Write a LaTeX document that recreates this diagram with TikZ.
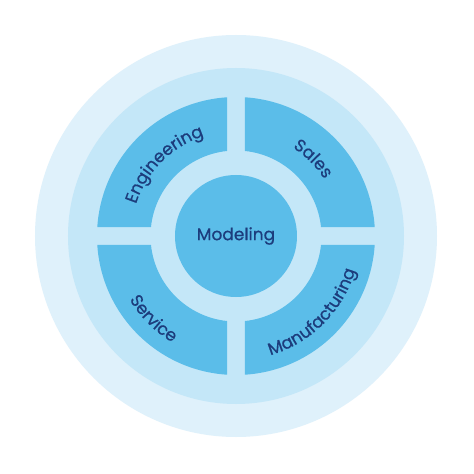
\documentclass[tikz,border=0pt]{standalone}
\usepackage{fontspec}
\setmainfont{Poppins}[FakeBold=0.6]
\usetikzlibrary{decorations.text}
\definecolor{outerc}{HTML}{DFF1FB}
\definecolor{ringc}{HTML}{C4E7F8}
\definecolor{segc}{HTML}{5BBDE9}
\definecolor{txtc}{HTML}{1C3C7C}
\newcommand{\lblfont}{\fontsize{17}{20}\selectfont\color{txtc}}
\tikzset{
  segment/.style={fill=segc, draw=none},
  arclabel/.style={decorate, decoration={text along path, text align=center, text color=txtc}}
}
\begin{document}
\begin{tikzpicture}
\useasboundingbox (-236pt,-238pt) rectangle (238pt,236pt);
\fill[white] (-236pt,-238pt) rectangle (238pt,236pt);
\fill[outerc] (0,0) circle[radius=201pt];
\fill[ringc] (0,0) circle[radius=168pt];
% four segments
\foreach \r in {0,90,180,270}{
  \fill[segment, rotate=\r] (93.71:139pt) arc[start angle=93.71, end angle=176.29, radius=139pt]
     -- (173.96:85.5pt) arc[start angle=173.96, end angle=96.04, radius=85.5pt] -- cycle;
}
\node[circle, fill=segc, minimum size=122pt, inner sep=0pt, font=\lblfont] (modeling) at (0,0) {Modeling};
% curved labels
\path[arclabel, decoration={text={|\lblfont|Engineering}}] (180:105pt) arc[start angle=180, end angle=90, radius=105pt];
\path[arclabel, decoration={text={|\lblfont|Sales}}] (90:105pt) arc[start angle=90, end angle=0, radius=105pt];
\path[arclabel, decoration={text={|\lblfont|Manufacturing}}] (-90:124pt) arc[start angle=-90, end angle=0, radius=124pt];
\path[arclabel, decoration={text={|\lblfont|Service}}] (180:124pt) arc[start angle=180, end angle=270, radius=124pt];
\end{tikzpicture}
\end{document}
